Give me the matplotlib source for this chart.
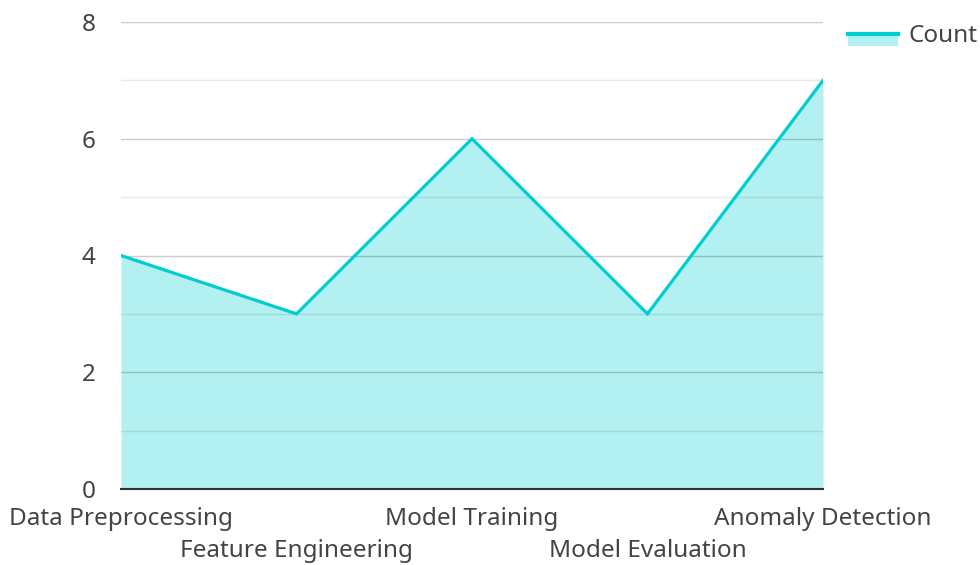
import matplotlib
matplotlib.use("Agg")
import matplotlib.pyplot as plt
from matplotlib.patches import Rectangle
from matplotlib.lines import Line2D

categories = ["Data Preprocessing", "Feature Engineering", "Model Training", "Model Evaluation", "Anomaly Detection"]
counts = [4, 3, 6, 3, 7]
series_name = "Count"

plt.rcParams['font.family'] = ['Noto Sans', 'DejaVu Sans']

line_color = '#00CED1'
fill_color = '#B2F0F1'
FS = 17.5

fig = plt.figure(figsize=(9.8, 5.65), dpi=100)
ax = fig.add_axes([121/980, 1-489/565, (823-121)/980, (489-22)/565])

x = list(range(len(categories)))
ax.fill_between(x, counts, 0, color=fill_color, linewidth=0, zorder=1)
ax.plot(x, counts, color=line_color, linewidth=2.3, zorder=3, solid_joinstyle='miter')

ax.set_xlim(0, len(categories)-1)
ax.set_ylim(0, 8)

for v in [1, 3, 5, 7]:
    ax.axhline(v, color='#000000', alpha=0.09, linewidth=1, zorder=2)
for v in [2, 4, 6, 8]:
    ax.axhline(v, color='#000000', alpha=0.2, linewidth=1, zorder=2)
ax.axhline(0, color='#333333', linewidth=1.5, zorder=4, clip_on=False)

for s in ax.spines.values():
    s.set_visible(False)

ax.set_yticks([0, 2, 4, 6, 8])
ax.tick_params(axis='y', length=0, pad=18.5, labelsize=FS, labelcolor='#444444')
ax.set_xticks(x)
ax.set_xticklabels([])
ax.tick_params(axis='x', length=0)

for i, c in enumerate(categories):
    yoff = -0.064 if i % 2 == 0 else -0.132
    ax.text(i, yoff, c, transform=ax.get_xaxis_transform(), ha='center', va='center',
            fontsize=FS, color='#444444', clip_on=False)

# legend
fig.add_artist(Rectangle((848/980, 1-46/565), 50/980, 13/565, transform=fig.transFigure,
                         facecolor=fill_color, edgecolor='none'))
fig.add_artist(Line2D([848/980, 898/980], [1-34/565, 1-34/565], transform=fig.transFigure,
                      color=line_color, linewidth=3))
fig.text(908/980, 1-36/565, series_name, ha='left', va='center', fontsize=FS, color='#444444')

fig.savefig("out.png", dpi=100)
